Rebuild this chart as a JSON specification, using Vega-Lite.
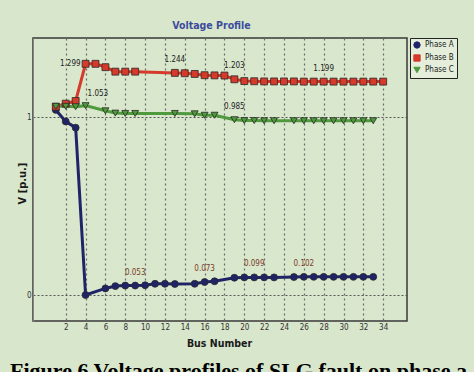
{
  "$schema": "https://vega.github.io/schema/vega-lite/v6.json",
  "width": 374,
  "height": 283,
  "autosize": {"type": "none"},
  "padding": {"left": 33, "top": 38, "right": 67, "bottom": 51},
  "background": "#d8e6cb",
  "config": {
    "view": {"stroke": "#3a3a3a", "strokeWidth": 1.5, "fill": "#d9e7cc"},
    "font": "Liberation Sans Narrow, DejaVu Sans Condensed, sans-serif"
  },
  "title": {
    "text": "Figure 6 Voltage profiles of SLG fault on phase a",
    "orient": "bottom",
    "anchor": "start",
    "frame": "group",
    "dx": -23,
    "offset": 12,
    "font": "Liberation Serif",
    "fontSize": 22,
    "fontWeight": "bold",
    "color": "#000000"
  },
  "data": {
    "values": [
      {"phase": "Phase A", "bus": 1, "v": 1.04},
      {"phase": "Phase A", "bus": 2, "v": 0.975},
      {"phase": "Phase A", "bus": 3, "v": 0.94},
      {"phase": "Phase A", "bus": 4, "v": 0.0},
      {"phase": "Phase A", "bus": 6, "v": 0.037},
      {"phase": "Phase A", "bus": 7, "v": 0.05},
      {"phase": "Phase A", "bus": 8, "v": 0.053},
      {"phase": "Phase A", "bus": 9, "v": 0.053, "label": "0.053"},
      {"phase": "Phase A", "bus": 10, "v": 0.055},
      {"phase": "Phase A", "bus": 11, "v": 0.063},
      {"phase": "Phase A", "bus": 12, "v": 0.063},
      {"phase": "Phase A", "bus": 13, "v": 0.062},
      {"phase": "Phase A", "bus": 15, "v": 0.063},
      {"phase": "Phase A", "bus": 16, "v": 0.073, "label": "0.073"},
      {"phase": "Phase A", "bus": 17, "v": 0.077},
      {"phase": "Phase A", "bus": 19, "v": 0.097},
      {"phase": "Phase A", "bus": 20, "v": 0.099},
      {"phase": "Phase A", "bus": 21, "v": 0.099, "label": "0.099"},
      {"phase": "Phase A", "bus": 22, "v": 0.099},
      {"phase": "Phase A", "bus": 23, "v": 0.099},
      {"phase": "Phase A", "bus": 25, "v": 0.101},
      {"phase": "Phase A", "bus": 26, "v": 0.102, "label": "0.102"},
      {"phase": "Phase A", "bus": 27, "v": 0.102},
      {"phase": "Phase A", "bus": 28, "v": 0.102},
      {"phase": "Phase A", "bus": 29, "v": 0.102},
      {"phase": "Phase A", "bus": 30, "v": 0.102},
      {"phase": "Phase A", "bus": 31, "v": 0.102},
      {"phase": "Phase A", "bus": 32, "v": 0.102},
      {"phase": "Phase A", "bus": 33, "v": 0.102},
      {"phase": "Phase B", "bus": 1, "v": 1.058},
      {"phase": "Phase B", "bus": 2, "v": 1.075},
      {"phase": "Phase B", "bus": 3, "v": 1.09},
      {"phase": "Phase B", "bus": 4, "v": 1.299, "label": "1.299"},
      {"phase": "Phase B", "bus": 5, "v": 1.299},
      {"phase": "Phase B", "bus": 6, "v": 1.28},
      {"phase": "Phase B", "bus": 7, "v": 1.255},
      {"phase": "Phase B", "bus": 8, "v": 1.255},
      {"phase": "Phase B", "bus": 9, "v": 1.255},
      {"phase": "Phase B", "bus": 13, "v": 1.248, "label": "1.244"},
      {"phase": "Phase B", "bus": 14, "v": 1.246},
      {"phase": "Phase B", "bus": 15, "v": 1.242},
      {"phase": "Phase B", "bus": 16, "v": 1.235},
      {"phase": "Phase B", "bus": 17, "v": 1.234},
      {"phase": "Phase B", "bus": 18, "v": 1.233},
      {"phase": "Phase B", "bus": 19, "v": 1.212, "label": "1.203"},
      {"phase": "Phase B", "bus": 20, "v": 1.202},
      {"phase": "Phase B", "bus": 21, "v": 1.201},
      {"phase": "Phase B", "bus": 22, "v": 1.2},
      {"phase": "Phase B", "bus": 23, "v": 1.2},
      {"phase": "Phase B", "bus": 24, "v": 1.2},
      {"phase": "Phase B", "bus": 25, "v": 1.2},
      {"phase": "Phase B", "bus": 26, "v": 1.199},
      {"phase": "Phase B", "bus": 27, "v": 1.199},
      {"phase": "Phase B", "bus": 28, "v": 1.199, "label": "1.199"},
      {"phase": "Phase B", "bus": 29, "v": 1.199},
      {"phase": "Phase B", "bus": 30, "v": 1.199},
      {"phase": "Phase B", "bus": 31, "v": 1.199},
      {"phase": "Phase B", "bus": 32, "v": 1.199},
      {"phase": "Phase B", "bus": 33, "v": 1.199},
      {"phase": "Phase B", "bus": 34, "v": 1.199},
      {"phase": "Phase C", "bus": 1, "v": 1.06},
      {"phase": "Phase C", "bus": 2, "v": 1.06},
      {"phase": "Phase C", "bus": 3, "v": 1.058},
      {"phase": "Phase C", "bus": 4, "v": 1.064, "label": "1.053"},
      {"phase": "Phase C", "bus": 6, "v": 1.035},
      {"phase": "Phase C", "bus": 7, "v": 1.022},
      {"phase": "Phase C", "bus": 8, "v": 1.02},
      {"phase": "Phase C", "bus": 9, "v": 1.02},
      {"phase": "Phase C", "bus": 13, "v": 1.02},
      {"phase": "Phase C", "bus": 15, "v": 1.018},
      {"phase": "Phase C", "bus": 16, "v": 1.01},
      {"phase": "Phase C", "bus": 17, "v": 1.01},
      {"phase": "Phase C", "bus": 19, "v": 0.985, "label": "0.985"},
      {"phase": "Phase C", "bus": 20, "v": 0.98},
      {"phase": "Phase C", "bus": 21, "v": 0.98},
      {"phase": "Phase C", "bus": 22, "v": 0.979},
      {"phase": "Phase C", "bus": 23, "v": 0.979},
      {"phase": "Phase C", "bus": 25, "v": 0.979},
      {"phase": "Phase C", "bus": 26, "v": 0.979},
      {"phase": "Phase C", "bus": 27, "v": 0.979},
      {"phase": "Phase C", "bus": 28, "v": 0.979},
      {"phase": "Phase C", "bus": 29, "v": 0.979},
      {"phase": "Phase C", "bus": 30, "v": 0.979},
      {"phase": "Phase C", "bus": 31, "v": 0.979},
      {"phase": "Phase C", "bus": 32, "v": 0.979},
      {"phase": "Phase C", "bus": 33, "v": 0.979}
    ]
  },
  "encoding": {
    "y": {
      "field": "v",
      "type": "quantitative",
      "scale": {"domain": [-0.146, 1.444], "nice": false, "zero": false},
      "axis": {
        "values": [0, 1],
        "format": "d",
        "title": "V [p.u.]",
        "titleFontSize": 11,
        "titleFontWeight": "bold",
        "titleColor": "#1a1a1a",
        "titleX": -11,
        "titleY": 145,
        "titleAngle": -90,
        "titleAlign": "center",
        "titleBaseline": "middle",
        "labelFontSize": 8,
        "labelColor": "#333333",
        "labelPadding": 2,
        "ticks": false,
        "domainColor": "#888888",
        "grid": true,
        "gridColor": "#555555",
        "gridDash": [2, 2],
        "gridWidth": 1
      }
    }
  },
  "layer": [
    {
      "mark": {"type": "line", "strokeWidth": 3},
      "encoding": {
        "x": {
          "field": "bus",
          "type": "quantitative",
          "scale": {"domain": [-1.3, 36.4], "nice": false, "zero": false},
          "axis": {
            "values": [2, 4, 6, 8, 10, 12, 14, 16, 18, 20, 22, 24, 26, 28, 30, 32, 34],
            "title": "Bus Number",
            "titleFontSize": 10.5,
            "titleFontWeight": "bold",
            "titleColor": "#1a1a1a",
            "titleX": 186,
            "titleY": 22,
            "titleBaseline": "middle",
            "labelFontSize": 8,
            "labelColor": "#333333",
            "labelPadding": 2,
            "ticks": false,
            "domain": false,
            "grid": true,
            "gridColor": "#6a6a6a",
            "gridOpacity": 1,
            "gridDash": [2, 3],
            "gridWidth": 1.2
          }
        },
        "color": {
          "field": "phase",
          "type": "nominal",
          "scale": {"domain": ["Phase A", "Phase B", "Phase C"], "range": ["#1f2468", "#d63a2a", "#4f9a3c"]},
          "legend": {
            "title": null,
            "orient": "none",
            "legendX": 377,
            "legendY": 0,
            "padding": 3,
            "strokeColor": "#222222",
            "fillColor": "#e4eedb",
            "labelFontSize": 8,
            "labelColor": "#1a1a1a",
            "labelLimit": 60,
            "symbolSize": 40,
            "rowPadding": 1,
            "symbolStrokeWidth": 1
          }
        },
        "shape": {
          "field": "phase",
          "type": "nominal",
          "scale": {"domain": ["Phase A", "Phase B", "Phase C"], "range": ["circle", "square", "triangle-down"]},
          "legend": null
        }
      }
    },
    {
      "mark": {"type": "point", "filled": true, "size": 48, "strokeWidth": 0.8, "opacity": 1},
      "encoding": {
        "x": {
          "field": "bus",
          "type": "quantitative",
          "axis": {
            "orient": "top",
            "title": "Voltage Profile",
            "titleFontSize": 10.5,
            "titleFontWeight": "bold",
            "titleColor": "#3b4c9c",
            "titleX": 178,
            "titleY": -13,
            "titleAlign": "center",
            "titleBaseline": "middle",
            "labels": false,
            "ticks": false,
            "domain": false,
            "grid": false
          }
        },
        "color": {"field": "phase", "type": "nominal"},
        "shape": {"field": "phase", "type": "nominal"},
        "stroke": {"value": "#2a2a2a"}
      }
    },
    {
      "transform": [{"filter": "datum.label != null && datum.label != '1.299' && datum.label != '1.053'"}],
      "mark": {"type": "text", "fontSize": 8, "dy": -13},
      "encoding": {
        "x": {"field": "bus", "type": "quantitative", "axis": null},
        "text": {"field": "label"},
        "color": {"condition": {"test": "datum.phase == 'Phase A'", "value": "#7a3a2a"}, "value": "#222222"}
      }
    },
    {
      "transform": [{"filter": "datum.label == '1.299'"}],
      "mark": {"type": "text", "fontSize": 8, "align": "right", "dx": -5, "dy": 0, "color": "#222222"},
      "encoding": {
        "x": {"field": "bus", "type": "quantitative", "axis": null},
        "text": {"field": "label"}
      }
    },
    {
      "transform": [{"filter": "datum.label == '1.053'"}],
      "mark": {"type": "text", "fontSize": 8, "align": "left", "dx": 2, "dy": -12, "color": "#222222"},
      "encoding": {
        "x": {"field": "bus", "type": "quantitative", "axis": null},
        "text": {"field": "label"}
      }
    }
  ],
  "resolve": {"axis": {"x": "independent"}}
}
